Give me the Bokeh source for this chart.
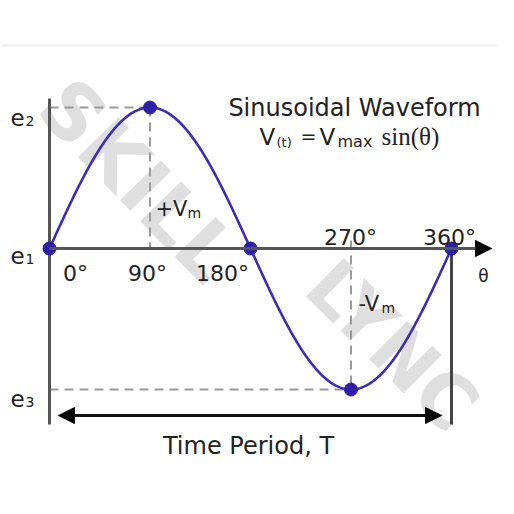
import numpy as np
from bokeh.plotting import figure
from bokeh.models import Arrow, NormalHead, Range1d
from bokeh.core.properties import value
from bokeh.embed import file_html
from bokeh.resources import INLINE

# ---------------- data ----------------
V_MAX = 1.0
theta_deg = np.linspace(0, 360, 361)               # angle axis, degrees
v_wave = V_MAX * np.sin(np.radians(theta_deg))      # V(t) = Vmax sin(theta)
key_angles = [0, 90, 180, 270, 360]
key_values = [0.0, 1.0, 0.0, -1.0, 0.0]
ticks_below = ["0°", "90°", "180°"]
ticks_above = ["270°", "360°"]
level_names = ["e", "e", "e"]
level_subs = ["2", "1", "3"]
title_line1 = "Sinusoidal Waveform"
period_label = "Time Period, T"

# ---------------- layout helpers (page pixel -> data) ----------------
def X(px):
    return (px - 49) / 402 * 360

def Y(py):
    return (248 - py) / 141

W = H = 498
p = figure(width=W, height=H, output_backend="svg", toolbar_location=None,
           x_range=Range1d(X(0), X(W)), y_range=Range1d(Y(H), Y(0)),
           min_border=0, title=None)
p.axis.visible = False
p.grid.visible = False
p.outline_line_color = None
p.background_fill_color = "white"
p.border_fill_color = "white"

SANS = value("DejaVu Sans")
SERIF = value("Liberation Serif")
TXT = "#222222"

# faint top rule
p.line([X(0), X(498)], [Y(45), Y(45)], line_color="#f0f0f0", line_width=2)

# watermark
p.text(x=[X(138)], y=[Y(180)], text=["SKILL"], angle=-0.80, text_font=SANS,
       text_font_style="bold", text_font_size="78px", text_color="#c4c4c4",
       text_alpha=0.55, text_align="center", text_baseline="middle")
p.text(x=[X(392)], y=[Y(345)], text=["LYNC"], angle=-0.78, text_font=SANS,
       text_font_style="bold", text_font_size="74px", text_color="#c4c4c4",
       text_alpha=0.55, text_align="center", text_baseline="middle")

# dashed guides
dash_kw = dict(line_color="#9a9a9a", line_width=2, line_dash="9 6")
p.line([key_angles[0], key_angles[1]], [key_values[1], key_values[1]], **dash_kw)
p.line([key_angles[1], key_angles[1]], [key_values[1], 0], **dash_kw)
p.line([key_angles[0], key_angles[3]], [key_values[3], key_values[3]], **dash_kw)
p.line([key_angles[3], key_angles[3]], [Y(240), key_values[3]], **dash_kw)

# axes
p.line([0, 0], [Y(98), Y(424)], line_color="#555555", line_width=3)
p.line([360, 360], [0, Y(424)], line_color="#444444", line_width=3)
p.add_layout(Arrow(x_start=0, y_start=0, x_end=X(491), y_end=0,
                   line_color="#555555", line_width=3,
                   end=NormalHead(size=16, fill_color="black", line_color="black")))
p.add_layout(Arrow(x_start=X(58), y_start=Y(415), x_end=X(441), y_end=Y(415),
                   line_color="#111111", line_width=3,
                   start=NormalHead(size=16, fill_color="black", line_color="black"),
                   end=NormalHead(size=16, fill_color="black", line_color="black")))

# waveform
p.line(theta_deg, v_wave, line_color="#3a2db8", line_width=2.6)
p.scatter(key_angles, key_values, size=13, color="#2d1fa6")

def txt(x, y, s, size, align="left", font=SANS, color=TXT):
    p.text(x=[x], y=[y], text=[s], text_font=font, text_font_size=size,
           text_align=align, text_baseline="alphabetic", text_color=color)

# level labels e2, e1, e3
for name, sub, base in zip(level_names, level_subs, [117, 255, 398]):
    txt(X(10), Y(base), name, "23px")
    txt(X(25), Y(base + 3), sub, "14px")

# angle tick labels
for lab, cx in zip(ticks_below, [75, 147, 222]):
    txt(X(cx), Y(273), lab, "22px", align="center")
for lab, cx in zip(ticks_above, [350, 449]):
    txt(X(cx), Y(237), lab, "22px", align="center")
txt(X(483), Y(275), "θ", "17px", align="center")

# +Vm / -Vm
txt(X(155), Y(208), "+V", "21px")
txt(X(187), Y(212), "m", "14px")
txt(X(358), Y(303), "-V", "21px")
txt(X(381), Y(307), "m", "14px")

# title
txt(X(354), Y(107), title_line1, "24px", align="center")
txt(X(259), Y(136), "V", "23px")
txt(X(276), Y(142), "(t)", "13px")
txt(X(300), Y(135), "=", "19px")
txt(X(319), Y(136), "V", "23px")
txt(X(337), Y(141), "max", "16px")
txt(X(381), Y(136), "sin(θ)", "25px", font=SERIF)

# period label
txt(X(248), Y(445), period_label, "24px", align="center")

open("out.html", "w").write(file_html(p, INLINE))
